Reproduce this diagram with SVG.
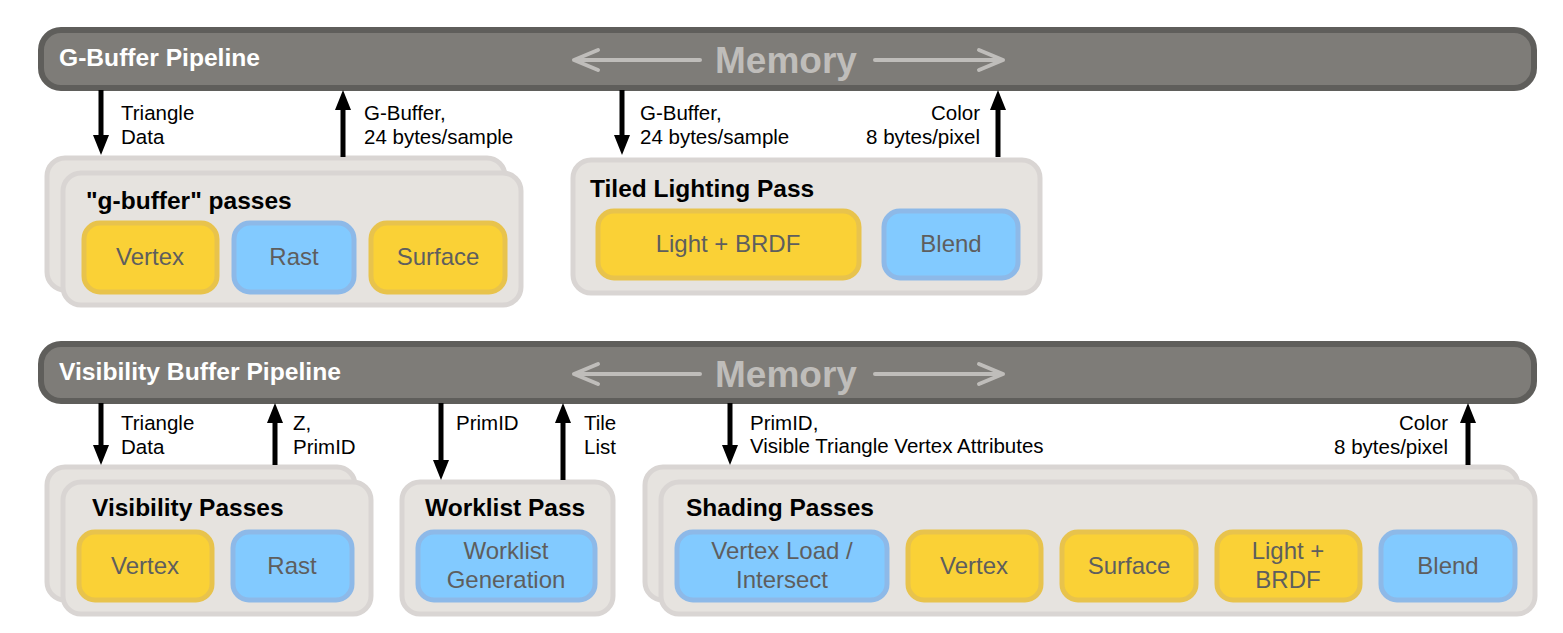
<svg xmlns="http://www.w3.org/2000/svg" width="1563" height="633" viewBox="0 0 1563 633">
<defs>
<style>
.bar{fill:#7e7c78;stroke:#5f5e5b;stroke-width:6}
.barT{font:bold 23px "Liberation Sans",Arial,sans-serif;fill:#ffffff}
.mem{font:bold 37px "Liberation Sans",Arial,sans-serif;fill:#bfbdba;text-anchor:middle}
.marr{fill:none;stroke:#bfbdba;stroke-width:4;stroke-linecap:round;stroke-linejoin:round}
.node{fill:#e6e3df;stroke:#d9d5d3;stroke-width:5}
.title{font:bold 24.5px "Liberation Sans",Arial,sans-serif;fill:#000}
.y{fill:#fad136;stroke:#e8c34c;stroke-width:5}
.b{fill:#82caff;stroke:#8db9e8;stroke-width:5}
.bt{font:24px "Liberation Sans",Arial,sans-serif;fill:#5e5e5e;text-anchor:middle}
.lab{font:20.5px "Liberation Sans",Arial,sans-serif;fill:#000}
.labr{font:20.5px "Liberation Sans",Arial,sans-serif;fill:#000;text-anchor:end}
.arr{stroke:#000;stroke-width:5;fill:none}
</style>
</defs>
<rect width="1563" height="633" fill="#ffffff"/>

<g id="gbuffer-memory">
<rect class="bar" x="41" y="30" width="1493" height="58" rx="20"/>
<text class="barT" x="59" y="66" textLength="201" lengthAdjust="spacingAndGlyphs">G-Buffer Pipeline</text>
<text class="mem" x="786" y="73">Memory</text>
<path class="marr" d="M700 60H574M598 50L574 60L598 70"/>
<path class="marr" d="M875 60H1003M979 50L1003 60L979 70"/>
</g>

<g id="vis-memory">
<rect class="bar" x="41" y="344" width="1493" height="57" rx="20"/>
<text class="barT" x="59" y="380" textLength="282" lengthAdjust="spacingAndGlyphs">Visibility Buffer Pipeline</text>
<text class="mem" x="786" y="387">Memory</text>
<path class="marr" d="M700 374H574M598 364L574 374L598 384"/>
<path class="marr" d="M875 374H1003M979 364L1003 374L979 384"/>
</g>

<g id="gbuffer-passes">
<rect class="node" x="47" y="158" width="458" height="132" rx="18"/>
<rect class="node" x="63" y="173" width="458" height="132" rx="18"/>
<text class="title" x="86" y="209">"g-buffer" passes</text>
<rect class="y" x="84" y="223" width="133" height="69" rx="16"/>
<text class="bt" x="150" y="265">Vertex</text>
<rect class="b" x="234" y="223" width="120" height="69" rx="16"/>
<text class="bt" x="294" y="265">Rast</text>
<rect class="y" x="371" y="223" width="134" height="69" rx="16"/>
<text class="bt" x="438" y="265">Surface</text>
</g>

<g id="tiled-lighting">
<rect class="node" x="573" y="160" width="467" height="133" rx="18"/>
<text class="title" x="590" y="197">Tiled Lighting Pass</text>
<rect class="y" x="598" y="211" width="261" height="67" rx="16"/>
<text class="bt" x="728" y="252">Light + BRDF</text>
<rect class="b" x="884" y="211" width="134" height="67" rx="16"/>
<text class="bt" x="951" y="252">Blend</text>
</g>

<g id="visibility-passes">
<rect class="node" x="47" y="467" width="308" height="133" rx="18"/>
<rect class="node" x="63" y="482" width="308" height="132" rx="18"/>
<text class="title" x="92" y="516">Visibility Passes</text>
<rect class="y" x="79" y="532" width="133" height="68" rx="16"/>
<text class="bt" x="145" y="574">Vertex</text>
<rect class="b" x="233" y="532" width="119" height="68" rx="16"/>
<text class="bt" x="292" y="574">Rast</text>
</g>

<g id="worklist-pass">
<rect class="node" x="402" y="482" width="211" height="132" rx="18"/>
<text class="title" x="425" y="516">Worklist Pass</text>
<rect class="b" x="418" y="532" width="177" height="68" rx="16"/>
<text class="bt" x="506" y="559">Worklist</text>
<text class="bt" x="506" y="588">Generation</text>
</g>

<g id="shading-passes">
<rect class="node" x="645" y="467" width="873" height="133" rx="18"/>
<rect class="node" x="661" y="482" width="874" height="132" rx="18"/>
<text class="title" x="686" y="516">Shading Passes</text>
<rect class="b" x="677" y="532" width="210" height="68" rx="16"/>
<text class="bt" x="782" y="559">Vertex Load /</text>
<text class="bt" x="782" y="588">Intersect</text>
<rect class="y" x="908" y="532" width="133" height="68" rx="16"/>
<text class="bt" x="974" y="574">Vertex</text>
<rect class="y" x="1062" y="532" width="134" height="68" rx="16"/>
<text class="bt" x="1129" y="574">Surface</text>
<rect class="y" x="1217" y="532" width="143" height="68" rx="16"/>
<text class="bt" x="1288" y="559">Light +</text>
<text class="bt" x="1288" y="588">BRDF</text>
<rect class="b" x="1381" y="532" width="134" height="68" rx="16"/>
<text class="bt" x="1448" y="574">Blend</text>
</g>

<g id="connectors">
<path class="arr" d="M101 90V136"/><path d="M93 135H109L101 155Z"/>
<text class="lab" x="121" y="120">Triangle</text><text class="lab" x="121" y="144">Data</text>
<path class="arr" d="M343 157V109"/><path d="M335 110H351L343 90Z"/>
<text class="lab" x="364" y="120">G-Buffer,</text><text class="lab" x="364" y="144">24 bytes/sample</text>
<path class="arr" d="M622 90V136"/><path d="M614 135H630L622 155Z"/>
<text class="lab" x="640" y="120">G-Buffer,</text><text class="lab" x="640" y="144">24 bytes/sample</text>
<path class="arr" d="M998 157V109"/><path d="M990 110H1006L998 90Z"/>
<text class="labr" x="980" y="120">Color</text><text class="labr" x="980" y="144">8 bytes/pixel</text>

<path class="arr" d="M101 403V446"/><path d="M93 445H109L101 465Z"/>
<text class="lab" x="121" y="430">Triangle</text><text class="lab" x="121" y="454">Data</text>
<path class="arr" d="M275 465V422"/><path d="M267 423H283L275 403Z"/>
<text class="lab" x="293" y="430">Z,</text><text class="lab" x="293" y="454">PrimID</text>
<path class="arr" d="M441 403V461"/><path d="M433 460H449L441 480Z"/>
<text class="lab" x="456" y="430">PrimID</text>
<path class="arr" d="M563 480V422"/><path d="M555 423H571L563 403Z"/>
<text class="lab" x="584" y="430">Tile</text><text class="lab" x="584" y="454">List</text>
<path class="arr" d="M730 403V446"/><path d="M722 445H738L730 465Z"/>
<text class="lab" x="750" y="430">PrimID,</text><text class="lab" x="750" y="453">Visible Triangle Vertex Attributes</text>
<path class="arr" d="M1468 465V422"/><path d="M1460 423H1476L1468 403Z"/>
<text class="labr" x="1448" y="430">Color</text><text class="labr" x="1448" y="454">8 bytes/pixel</text>
</g>
</svg>
